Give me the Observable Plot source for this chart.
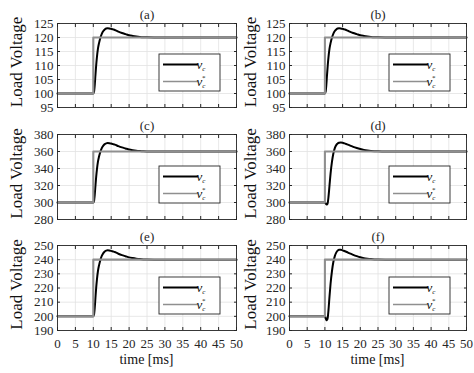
<!DOCTYPE html>
<html>
<head>
<meta charset="utf-8">
<script src="https://cdn.jsdelivr.net/npm/d3@7"></script>
<script src="https://cdn.jsdelivr.net/npm/@observablehq/plot@0.6"></script>
<style>
  html, body { margin: 0; padding: 0; background: #fff; }
  #wrap { position: relative; width: 474px; height: 373px; overflow: hidden; background: #fff; }
  #wrap svg { position: absolute; overflow: visible; }
  #wrap svg, #wrap svg text, #wrap svg tspan { font-family: "Liberation Serif", serif !important; }
</style>
</head>
<body>
<div id="wrap"></div>
<script>
// ---- data ----
const time = [0, 10, 10.2, 10.4, 10.6, 10.8, 11, 11.3, 11.6, 12, 12.4, 12.8, 13.2, 13.6, 14, 14.5, 15, 15.5, 16, 17, 18, 19, 20, 21, 22, 23, 24, 25, 27, 50];
const vcA = [100, 100, 100.6, 103, 106.6, 110, 112.8, 116, 118, 120, 121.4, 122.3, 122.9, 123.2, 123.3, 123.25, 123.1, 122.9, 122.7, 122.1, 121.6, 121.2, 120.8, 120.55, 120.35, 120.2, 120.1, 120.05, 120, 120];
const vcB = [100, 100, 100.6, 103, 106.6, 110, 112.8, 116, 118, 120, 121.4, 122.3, 122.9, 123.2, 123.3, 123.25, 123.1, 122.9, 122.7, 122.1, 121.6, 121.2, 120.8, 120.55, 120.35, 120.2, 120.1, 120.05, 120, 120];
const vcC = [300, 300, 301.8, 309, 319.8, 330, 338.4, 348, 354, 360, 364.2, 366.9, 368.7, 369.6, 369.9, 369.7, 369.3, 368.7, 368.1, 366.3, 364.8, 363.6, 362.4, 361.6, 361, 360.6, 360.3, 360.1, 360, 360];
const vcD = [300, 300, 299, 298, 297.6, 299.5, 306, 320, 334, 348, 358, 364, 367.5, 369.3, 370.2, 370.5, 370.2, 369.6, 368.9, 367.2, 365.5, 364.1, 362.9, 361.9, 361.2, 360.7, 360.4, 360.2, 360, 360];
const vcE = [200, 200, 201.2, 206, 213.2, 220, 225.6, 232, 236, 240, 242.8, 244.6, 245.8, 246.4, 246.6, 246.5, 246.2, 245.8, 245.4, 244.2, 243.2, 242.4, 241.6, 241.1, 240.7, 240.4, 240.2, 240.1, 240, 240];
const vcF = [200, 200, 198.8, 197.5, 197.3, 199, 204, 214, 223, 232, 238.5, 242.5, 245, 246.4, 247, 247, 246.6, 246.1, 245.6, 244.4, 243.4, 242.5, 241.7, 241.1, 240.7, 240.4, 240.2, 240.1, 240, 240];

const refTime = [0, 10, 10, 50];
const refAB = [100, 100, 120, 120];
const refCD = [300, 300, 360, 360];
const refEF = [200, 200, 240, 240];

const xTicks = [0, 5, 10, 15, 20, 25, 30, 35, 40, 45, 50];
const yTicksAB = [95, 100, 105, 110, 115, 120, 125];
const yTicksCD = [280, 300, 320, 340, 360, 380];
const yTicksEF = [190, 200, 210, 220, 230, 240, 250];

const titles = ["(a)", "(b)", "(c)", "(d)", "(e)", "(f)"];
const yLabel = "Load Voltage";
const xLabel = "time [ms]";
const legendLabels = ["v", "v"];

// ---- layout ----
const FONT = "Liberation Serif, serif";
const INK = "#262626";
const GRAY = "#8f8f8f";
const cols = [{left: 0, ml: 57, mr: 4}, {left: 234, ml: 55, mr: 8}];
const rows = [
  {top: 0, h: 120, mt: 23, mb: 13, ticks: yTicksAB, domain: [95, 125], ref: refAB, vc: [vcA, vcB]},
  {top: 115, h: 115, mt: 19, mb: 11, ticks: yTicksCD, domain: [280, 380], ref: refCD, vc: [vcC, vcD]},
  {top: 226, h: 147, mt: 19, mb: 43, ticks: yTicksEF, domain: [190, 250], ref: refEF, vc: [vcE, vcF]}
];
const W = 240;
const wrap = document.getElementById("wrap");

rows.forEach((r, ri) => {
  cols.forEach((c, ci) => {
    const bottomRow = ri === rows.length - 1;
    const vc = r.vc[ci];
    const chart = Plot.plot({
      width: W,
      height: r.h,
      marginLeft: c.ml,
      marginRight: c.mr,
      marginTop: r.mt,
      marginBottom: r.mb,
      style: {fontFamily: FONT, fontSize: "13px", color: INK, background: "transparent", overflow: "visible"},
      x: {domain: [0, 50]},
      y: {domain: r.domain},
      marks: [
        Plot.gridX(xTicks, {stroke: "#e2e2e2", strokeOpacity: 1, strokeWidth: 0.8}),
        Plot.gridY(r.ticks, {stroke: "#e2e2e2", strokeOpacity: 1, strokeWidth: 0.8}),
        Plot.axisX({anchor: "bottom", ticks: xTicks, tickSize: 0, tickPadding: 8, label: null,
          tickFormat: bottomRow ? (d => String(d)) : (() => ""), fontSize: 13}),
        Plot.axisX({anchor: "bottom", ticks: xTicks, tickSize: -3, tickFormat: () => "", label: null}),
        Plot.axisX({anchor: "top", ticks: xTicks, tickSize: -3, tickFormat: () => "", label: null}),
        Plot.axisY({anchor: "left", ticks: r.ticks, tickSize: 0, tickPadding: 4, label: null, fontSize: 13}),
        Plot.axisY({anchor: "left", ticks: r.ticks, tickSize: -3, tickFormat: () => "", label: null}),
        Plot.axisY({anchor: "right", ticks: r.ticks, tickSize: -3, tickFormat: () => "", label: null}),
        Plot.line({length: time.length}, {x: time, y: vc, stroke: "#000", strokeWidth: 2, curve: "monotone-x"}),
        Plot.line({length: refTime.length}, {x: refTime, y: r.ref, stroke: GRAY, strokeWidth: 2.1}),
        Plot.frame({stroke: INK, strokeWidth: 0.9}),
        Plot.text([titles[ri * 2 + ci]], {frameAnchor: "top", text: d => d, dy: -5, lineAnchor: "bottom", fontSize: 13, fill: INK})
      ]
    });
    chart.style.left = c.left + "px";
    chart.style.top = r.top + "px";
    wrap.appendChild(chart);

    const svg = d3.select(chart);
    const fL = c.ml, fR = W - c.mr, fT = r.mt, fB = r.h - r.mb;
    // y label
    svg.append("text")
      .attr("transform", `translate(18,${(fT + fB) / 2 - 3}) rotate(-90)`)
      .attr("text-anchor", "middle").attr("dominant-baseline", "middle")
      .attr("font-family", FONT).attr("font-size", 17).attr("fill", "#111")
      .text(yLabel);
    // x label
    if (bottomRow) {
      svg.append("text")
        .attr("x", (fL + fR) / 2).attr("y", 138)
        .attr("text-anchor", "middle")
        .attr("font-family", FONT).attr("font-size", 14).attr("fill", "#111")
        .text(xLabel);
    }
    // legend
    const bw = 61, bh = 37;
    const bx = fR - 16 - bw, by = fB - 16 - bh;
    const g = svg.append("g");
    g.append("rect").attr("x", bx).attr("y", by).attr("width", bw).attr("height", bh)
      .attr("fill", "#fff").attr("stroke", INK).attr("stroke-width", 0.9);
    const items = [{stroke: "#000", w: 2, sup: false}, {stroke: GRAY, w: 1.6, sup: true}];
    items.forEach((it, k) => {
      const ly = by + 10.5 + k * 17;
      g.append("line").attr("x1", bx + 4).attr("x2", bx + 39).attr("y1", ly).attr("y2", ly)
        .attr("stroke", it.stroke).attr("stroke-width", it.w);
      const t = g.append("text").attr("x", bx + 42).attr("y", ly + 4)
        .attr("font-family", FONT).attr("font-size", 13).attr("fill", "#111");
      t.append("tspan").attr("font-style", "italic").text(legendLabels[k]);
      t.append("tspan").attr("font-style", "italic").attr("font-size", 7).attr("dy", 2).text("c");
      if (it.sup) {
        t.append("tspan").attr("font-size", 7).attr("dx", -3.5).attr("dy", -8).text("*");
      }
    });
  });
});
</script>
</body>
</html>
